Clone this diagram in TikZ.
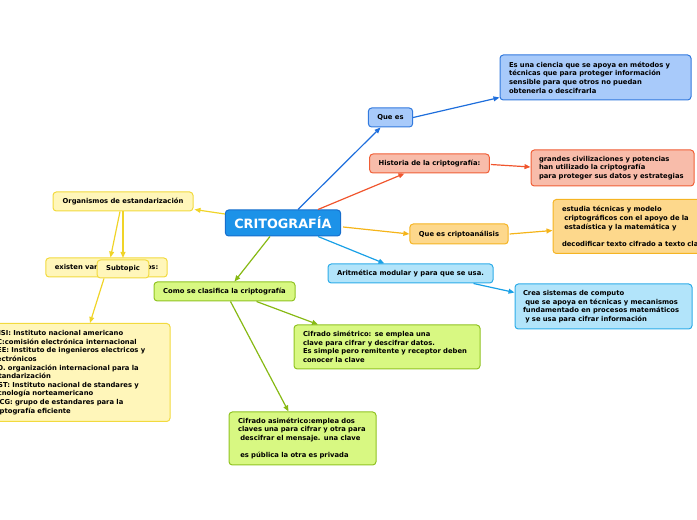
\documentclass[tikz,border=0pt]{standalone}
\usepackage{fontspec}
\setmainfont{DejaVu Sans}
\usetikzlibrary{calc,arrows.meta}
\definecolor{cfill}{RGB}{28,146,232}
\definecolor{cdraw}{RGB}{22,110,205}
\definecolor{bfill}{RGB}{168,202,250}
\definecolor{bdraw}{RGB}{50,122,222}
\definecolor{barr}{RGB}{30,110,220}
\definecolor{rfill}{RGB}{248,188,170}
\definecolor{rdraw}{RGB}{240,95,55}
\definecolor{rarr}{RGB}{240,85,45}
\definecolor{ofill}{RGB}{253,216,140}
\definecolor{odraw}{RGB}{245,180,35}
\definecolor{oarr}{RGB}{245,180,25}
\definecolor{lfill}{RGB}{178,228,250}
\definecolor{ldraw}{RGB}{45,172,232}
\definecolor{larr}{RGB}{25,160,230}
\definecolor{gfill}{RGB}{216,248,130}
\definecolor{gdraw}{RGB}{145,195,35}
\definecolor{garr}{RGB}{135,185,20}
\definecolor{yfill}{RGB}{255,246,186}
\definecolor{ydraw}{RGB}{242,218,62}
\definecolor{yarr}{RGB}{240,212,40}
\tikzset{
  box/.style={draw, rounded corners=2.5pt, line width=0.75pt, inner xsep=6.75pt, inner ysep=0pt,
    font=\fontsize{5.1}{6.45}\selectfont\bfseries, text=black},
  mbox/.style={box, align=left},
  ar/.style={line width=0.9pt, -{Triangle[length=4.5pt,width=3.6pt]}},
}
\begin{document}
\begin{tikzpicture}[x=0.75pt,y=-0.75pt]
\useasboundingbox (0,0) rectangle (697,520);

% central
\node[box, fill=cfill, draw=cdraw, text=white, font=\fontsize{9.6}{11}\selectfont\bfseries,
  minimum width=85.5pt, minimum height=19.5pt] (central) at (283,223) {CRITOGRAFÍA};

% blue
\node[box, fill=bfill, draw=bdraw, minimum width=32.25pt, minimum height=14.25pt] (quees) at (390.5,117.5) {Que es};
\node[mbox, fill=bfill, draw=bdraw, minimum width=143.25pt, minimum height=33.75pt, text width=129.75pt] (def) at (595.5,77.5)
 {\mbox{Es una ciencia que se apoya en métodos y}\\\mbox{técnicas que para proteger información}\\\mbox{sensible para que otros no puedan}\\\mbox{obtenerla o descifrarla}};

% red
\node[box, fill=rfill, draw=rdraw, minimum width=89.25pt, minimum height=14.25pt] (hist) at (429.5,163.5) {Historia de la criptografía:};
\node[mbox, fill=rfill, draw=rdraw, inner xsep=6pt, minimum width=122.25pt, minimum height=27pt, text width=110.25pt] (histd) at (612.5,168)
 {\mbox{grandes civilizaciones y potencias}\\\mbox{han utilizado la criptografía}\\\mbox{para proteger sus datos y estrategias}};

% orange
\node[box, fill=ofill, draw=odraw, minimum width=73.5pt, minimum height=15pt] (cripto) at (459,234) {Que es criptoanálisis};
\node[mbox, fill=ofill, draw=odraw, minimum width=144pt, minimum height=40.5pt, text width=130.5pt] (criptod) at (649,226.5)
 {\mbox{estudia técnicas y modelo}\\\mbox{\ criptográficos con el apoyo de la}\\\mbox{\ estadística y la matemática y}\\\mbox{}\\\mbox{decodificar texto cifrado a texto claro}};

% light blue
\node[box, fill=lfill, draw=ldraw, minimum width=123.75pt, minimum height=14.25pt] (arit) at (410.5,273.5) {Aritmética modular y para que se usa.};
\node[mbox, fill=lfill, draw=ldraw, inner xsep=6pt, minimum width=132.75pt, minimum height=33.75pt, text width=120.75pt] (aritd) at (603.5,306.5)
 {\mbox{Crea sistemas de computo}\\\mbox{\ que se apoya en técnicas y mecanismos}\\\mbox{fundamentado en procesos matemáticos}\\\mbox{\ y se usa para cifrar información}};

% green
\node[box, fill=gfill, draw=gdraw, minimum width=105.75pt, minimum height=14.25pt] (como) at (224.5,291.5) {Como se clasifica la criptografía};
\node[mbox, fill=gfill, draw=gdraw, minimum width=139.5pt, minimum height=33pt, text width=126pt] (sim) at (387,347)
 {\mbox{Cifrado simétrico: se emplea una}\\\mbox{clave para cifrar y descifrar datos.}\\\mbox{Es simple pero remitente y receptor deben}\\\mbox{conocer la clave}};
\node[mbox, fill=gfill, draw=gdraw, minimum width=110.25pt, minimum height=39.75pt, text width=96.75pt] (asim) at (302.5,438.5)
 {\mbox{Cifrado asimétrico:emplea dos}\\\mbox{claves una para cifrar y otra para}\\\mbox{\ descifrar el mensaje. una clave}\\\mbox{}\\\mbox{\ es pública la otra es privada}};

% yellow
\node[box, fill=yfill, draw=ydraw, minimum width=105pt, minimum height=14.25pt] (org) at (123,201.5) {Organismos de estandarización};
\node[box, fill=yfill, draw=ydraw, minimum width=89.25pt, minimum height=14.25pt] (exist) at (106.5,267.5) {existen varios organismos:};
\node[box, fill=yfill, draw=ydraw, minimum width=37.5pt, minimum height=13.5pt] (sub) at (123,269) {Subtopic};
\node[mbox, fill=yfill, draw=ydraw, inner xsep=22.5pt, minimum width=157.5pt, minimum height=73.5pt, text width=112.5pt] (list) at (65,372.5)
 {\mbox{ANSI: Instituto nacional americano}\\\mbox{IEC:comisión electrónica internacional}\\\mbox{IEEE: Instituto de ingenieros electricos y}\\\mbox{electrónicos}\\\mbox{ISO. organización internacional para la}\\\mbox{estandarización}\\\mbox{NIST: Instituto nacional de standares y}\\\mbox{tecnología norteamericano}\\\mbox{SECG: grupo de estandares para la}\\\mbox{criptografía eficiente}};

% connectors
\draw[ar, barr] ($(central.north)+(15,0)$) -- ($(quees.south)+(-10,0)$);
\draw[ar, barr] (quees.east) -- ($(def.south west)+(0,-3)$);
\draw[ar, rarr] ($(central.north)+(35,0)$) -- ($(hist.south)+(-25,0)$);
\draw[ar, rarr] ($(hist.east)+(1,1)$) -- ($(histd.west)+(0,-1)$);
\draw[ar, oarr] ($(central.east)+(2,4)$) -- (cripto.west);
\draw[ar, oarr] ($(cripto.east)+(1,0)$) -- ($(criptod.west)+(0,4)$);
\draw[ar, larr] ($(central.south)+(35,0)$) -- ($(arit.north)+(-26,0)$);
\draw[ar, larr] ($(arit.south)+(63,0)$) -- ($(aritd.west)+(0,-14)$);
\draw[ar, garr] ($(central.south)+(-13,0)$) -- ($(como.north)+(10,0)$);
\draw[ar, garr] ($(como.south)+(32,0)$) -- ($(sim.north)+(-69,0)$);
\draw[ar, garr] ($(como.south)+(6,0)$) -- ($(asim.north)+(-14,0)$);
\draw[ar, yarr] ($(central.west)+(0,-9)$) -- ($(org.east)+(1,8)$);
\draw[ar, yarr] ($(org.south)+(-3,0)$) -- ($(exist.north)+(4,0)$);
\draw[ar, yarr] (org.south) -- ($(sub.north)+(0,-1.5)$);
\draw[ar, yarr] ($(sub.south)+(-19,0)$) -- ($(list.north)+(25,0)$);
\end{tikzpicture}
\end{document}
